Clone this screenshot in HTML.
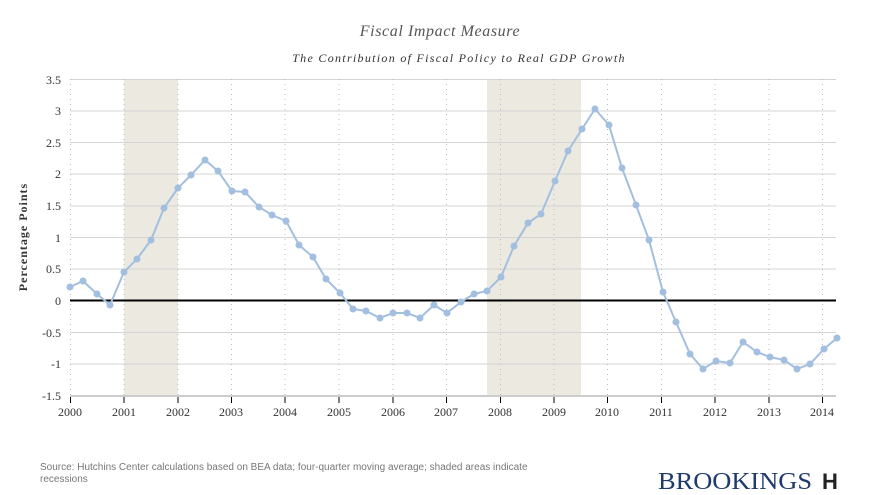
<!DOCTYPE html><html><head><style>body{margin:0;background:#fff}svg{display:block}</style></head><body>
<svg width="880" height="495" xmlns="http://www.w3.org/2000/svg" font-family="Liberation Serif, serif">
<text x="440" y="36" text-anchor="middle" font-style="italic" font-size="16" fill="#555" letter-spacing="0.6">Fiscal Impact Measure</text>
<text x="459" y="62" text-anchor="middle" font-style="italic" font-size="12" fill="#333" letter-spacing="1.3">The Contribution of Fiscal Policy to Real GDP Growth</text>
<rect x="124" y="79" width="54" height="317" fill="#ece9e1"/>
<rect x="487" y="79" width="94" height="317" fill="#ece9e1"/>
<g stroke="#d4d4d4" stroke-width="1">
<line x1="70" x2="836" y1="79.5" y2="79.5"/><line x1="70" x2="836" y1="111" y2="111"/><line x1="70" x2="836" y1="142.5" y2="142.5"/><line x1="70" x2="836" y1="174" y2="174"/><line x1="70" x2="836" y1="206" y2="206"/><line x1="70" x2="836" y1="237.5" y2="237.5"/><line x1="70" x2="836" y1="269" y2="269"/><line x1="70" x2="836" y1="332.5" y2="332.5"/><line x1="70" x2="836" y1="364" y2="364"/>
</g>
<g stroke="#bbb" stroke-dasharray="1,4">
<line x1="70.5" x2="70.5" y1="79" y2="396"/><line x1="124" x2="124" y1="79" y2="396"/><line x1="178" x2="178" y1="79" y2="396"/><line x1="231.5" x2="231.5" y1="79" y2="396"/><line x1="285" x2="285" y1="79" y2="396"/><line x1="339" x2="339" y1="79" y2="396"/><line x1="393" x2="393" y1="79" y2="396"/><line x1="446.5" x2="446.5" y1="79" y2="396"/><line x1="500.5" x2="500.5" y1="79" y2="396"/><line x1="554" x2="554" y1="79" y2="396"/><line x1="607.5" x2="607.5" y1="79" y2="396"/><line x1="661.5" x2="661.5" y1="79" y2="396"/><line x1="715" x2="715" y1="79" y2="396"/><line x1="769" x2="769" y1="79" y2="396"/><line x1="822.5" x2="822.5" y1="79" y2="396"/>
</g>
<line x1="70" x2="836" y1="300.5" y2="300.5" stroke="#000" stroke-width="2"/>
<line x1="70" x2="836" y1="396" y2="396" stroke="#ccc" stroke-width="2"/>
<g stroke="#000">
<line x1="70.5" x2="70.5" y1="397" y2="403"/><line x1="124" x2="124" y1="397" y2="403"/><line x1="178" x2="178" y1="397" y2="403"/><line x1="231.5" x2="231.5" y1="397" y2="403"/><line x1="285" x2="285" y1="397" y2="403"/><line x1="339" x2="339" y1="397" y2="403"/><line x1="393" x2="393" y1="397" y2="403"/><line x1="446.5" x2="446.5" y1="397" y2="403"/><line x1="500.5" x2="500.5" y1="397" y2="403"/><line x1="554" x2="554" y1="397" y2="403"/><line x1="607.5" x2="607.5" y1="397" y2="403"/><line x1="661.5" x2="661.5" y1="397" y2="403"/><line x1="715" x2="715" y1="397" y2="403"/><line x1="769" x2="769" y1="397" y2="403"/><line x1="822.5" x2="822.5" y1="397" y2="403"/>
</g>
<g font-size="12" fill="#333" text-anchor="end">
<text x="61" y="84">3.5</text><text x="61" y="115">3</text><text x="61" y="147">2.5</text><text x="61" y="178">2</text><text x="61" y="210">1.5</text><text x="61" y="242">1</text><text x="61" y="273">0.5</text><text x="61" y="305">0</text><text x="61" y="337">-0.5</text><text x="61" y="368">-1</text><text x="61" y="400">-1.5</text>
</g>
<g font-size="12" fill="#333" text-anchor="middle">
<text x="70" y="416">2000</text><text x="124" y="416">2001</text><text x="178" y="416">2002</text><text x="231" y="416">2003</text><text x="285" y="416">2004</text><text x="339" y="416">2005</text><text x="393" y="416">2006</text><text x="446" y="416">2007</text><text x="500" y="416">2008</text><text x="554" y="416">2009</text><text x="607" y="416">2010</text><text x="661" y="416">2011</text><text x="715" y="416">2012</text><text x="769" y="416">2013</text><text x="822" y="416">2014</text>
</g>
<text transform="translate(27,237) rotate(-90)" text-anchor="middle" font-size="12" font-weight="bold" fill="#333" letter-spacing="1">Percentage Points</text>
<polyline fill="none" stroke="#a3bfdf" stroke-width="2" points="70,287 83,281 97,294 110,305 124,272 137,259 151,240 164,208 178,188 191,175 205,160 218,171 232,191 245,192 259,207 272,215 286,221 299,245 313,257 326,279 340,293 353,309 366,311 380,318 393,313 407,313 420,318 434,305 447,313 461,302 474,294 487,291 501,277 514,246 528,223 541,214 555,181 568,151 582,129 595,109 609,125 622,168 636,205 649,240 663,292 676,322 690,354 703,369 716,361 730,363 743,342 757,352 770,357 784,360 797,369 810,364 824,349 837,338"/>
<g fill="#a3bfdf" id="d"></g>
<script>
var p="70,287 83,281 97,294 110,305 124,272 137,259 151,240 164,208 178,188 191,175 205,160 218,171 232,191 245,192 259,207 272,215 286,221 299,245 313,257 326,279 340,293 353,309 366,311 380,318 393,313 407,313 420,318 434,305 447,313 461,302 474,294 487,291 501,277 514,246 528,223 541,214 555,181 568,151 582,129 595,109 609,125 622,168 636,205 649,240 663,292 676,322 690,354 703,369 716,361 730,363 743,342 757,352 770,357 784,360 797,369 810,364 824,349 837,338".split(" ");
var g=document.getElementById("d");p.forEach(function(s){var a=s.split(",");var c=document.createElementNS("http://www.w3.org/2000/svg","circle");c.setAttribute("cx",a[0]);c.setAttribute("cy",a[1]);c.setAttribute("r","3.5");g.appendChild(c);});
</script>
<text x="40" y="470" font-family="Liberation Sans, sans-serif" font-size="10" fill="#777">Source: Hutchins Center calculations based on BEA data; four-quarter moving average; shaded areas indicate</text>
<text x="40" y="482" font-family="Liberation Sans, sans-serif" font-size="10" fill="#777">recessions</text>
<text x="658" y="489" font-size="24" fill="#1f3a6b" textLength="154" lengthAdjust="spacingAndGlyphs">BROOKINGS</text>
<text x="822" y="489" font-family="Liberation Sans, sans-serif" font-weight="bold" font-size="22" fill="#222">H</text>
</svg></body></html>
